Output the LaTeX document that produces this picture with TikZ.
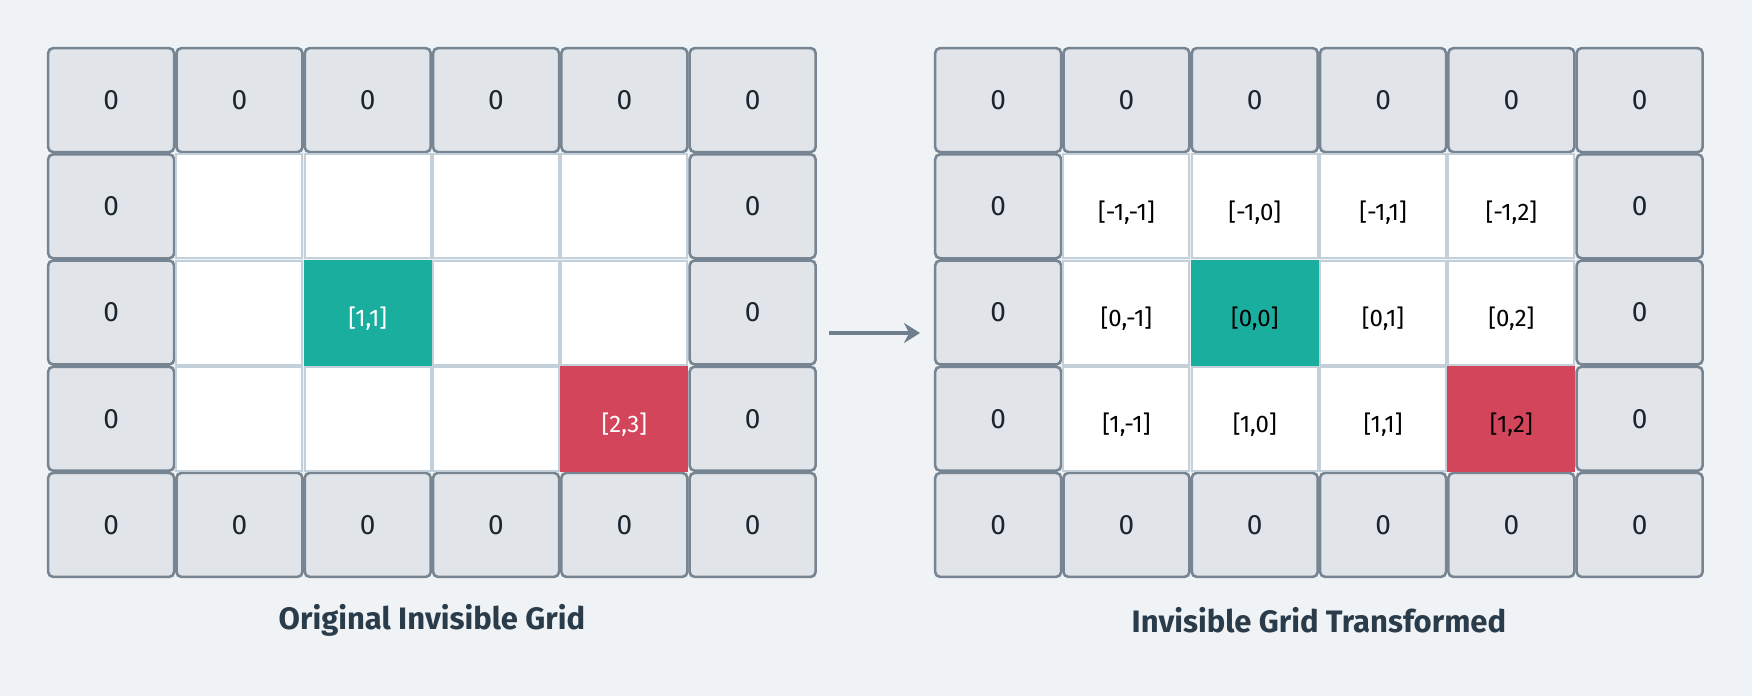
\documentclass[tikz,border=0pt]{standalone}
\usepackage{fontspec}
\setmainfont{Fira Sans}
\usetikzlibrary{arrows.meta}
\definecolor{bg}{HTML}{EFF3F6}
\definecolor{gfill}{HTML}{E1E5E9}
\definecolor{gdraw}{HTML}{778593}
\definecolor{wdraw}{HTML}{C3CFD9}
\definecolor{teal}{HTML}{1AAE9F}
\definecolor{redc}{HTML}{D3455B}
\definecolor{txt}{HTML}{1B2530}
\definecolor{ttl}{HTML}{2A3B4A}
\definecolor{arr}{HTML}{6F7E8C}
\tikzset{
  cell/.style={minimum width=126pt,minimum height=104pt,inner sep=0pt,font=\fontsize{28}{32}\selectfont,text=txt},
  pad/.style={cell,fill=gfill,draw=gdraw,line width=2.6pt,rounded corners=5pt},
  inn/.style={cell,fill=white,draw=wdraw,line width=2pt,font=\fontsize{24}{28}\selectfont},
  hot/.style={inn,fill=teal,draw=teal,text=white},
  hotr/.style={inn,fill=redc,draw=redc,text=white},
  lbl/.style={font=\fontsize{24}{28}\selectfont,inner sep=0pt},
  title/.style={font=\bfseries\fontsize{31}{36}\selectfont,text=ttl}
}
\begin{document}
\begin{tikzpicture}[x=1pt,y=-1pt]
\fill[bg] (0,0) rectangle (1752,696);
\useasboundingbox (0,0) rectangle (1752,696);
\def\cw{128.3}\def\ch{106.2}
\foreach \gx/\g in {47/L,934/R}{
  \foreach \c in {0,...,5}{
    \node[pad] (\g t\c) at ({\gx+(\c+0.5)*\cw},{47+0.5*\ch}) {0};
    \node[pad] (\g b\c) at ({\gx+(\c+0.5)*\cw},{47+4.5*\ch}) {0};
  }
  \foreach \r in {1,2,3}{
    \node[pad] (\g l\r) at ({\gx+0.5*\cw},{47+(\r+0.5)*\ch}) {0};
    \node[pad] (\g r\r) at ({\gx+5.5*\cw},{47+(\r+0.5)*\ch}) {0};
  }
}
\foreach \r/\c/\s/\t/\u in {0/0/inn/{[0,0]}/{[-1,-1]},0/1/inn/{[0,1]}/{[-1,0]},0/2/inn/{[0,2]}/{[-1,1]},0/3/inn/{[0,3]}/{[-1,2]},
  1/0/inn/{[1,0]}/{[0,-1]},1/1/hot/{[1,1]}/{[0,0]},1/2/inn/{[1,2]}/{[0,1]},1/3/inn/{[1,3]}/{[0,2]},
  2/0/inn/{[2,0]}/{[1,-1]},2/1/inn/{[2,1]}/{[1,0]},2/2/inn/{[2,2]}/{[1,1]},2/3/hotr/{[2,3]}/{[1,2]}}{
  \node[\s] (Lc\r\c) at ({47+(\c+1.5)*\cw},{47+(\r+1.5)*\ch}) {};
  \node[\s] (Rc\r\c) at ({934+(\c+1.5)*\cw},{47+(\r+1.5)*\ch}) {};
  \node[lbl,text=\ifx\s\inn txt\else white\fi] (Lt\r\c) at ([yshift=-6pt]Lc\r\c.center) {\t};
  \node[lbl] (Rt\r\c) at ([yshift=-6pt]Rc\r\c.center) {\u};
}
\foreach \n in {Lt11,Lt23,Rt11,Rt23}{\node[lbl,text=white] at (\n) {};}
\coordinate (a1) at (829,333);
\coordinate (a2) at (920,333);
\draw[arr,line width=4.5pt,-{Stealth[length=16pt,width=20pt]}] (a1) -- (a2);
\node[title] (T1) at ({47+3*\cw},620) {Original Invisible Grid};
\node[title] (T2) at ({934+3*\cw},620) {Invisible Grid Transformed};
\end{tikzpicture}
\end{document}
